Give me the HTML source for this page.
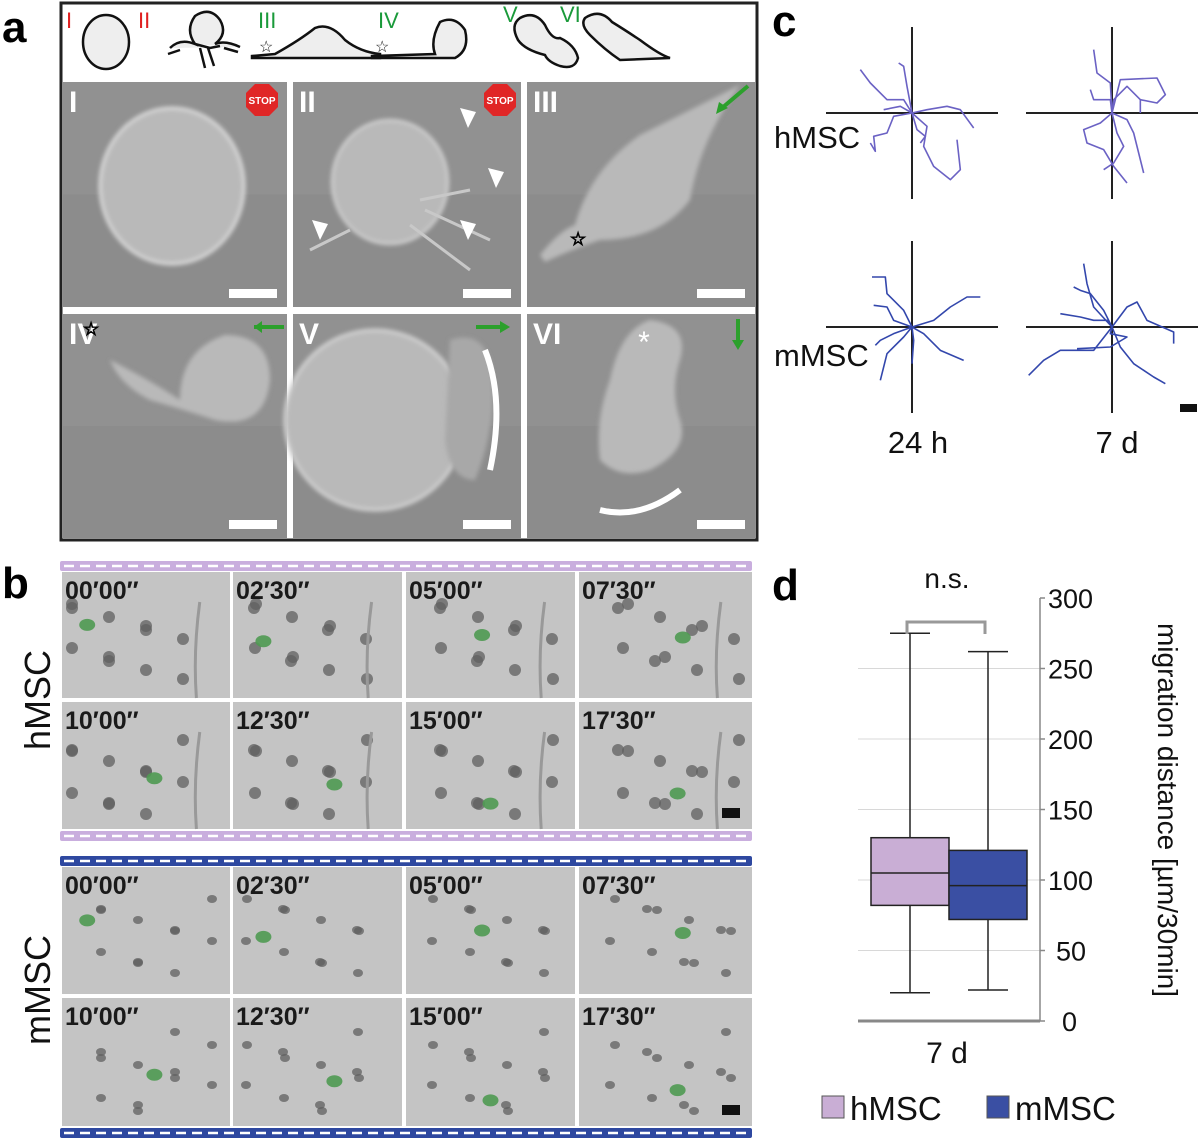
<!DOCTYPE html>
<html><head><meta charset="utf-8"><style>
html,body{margin:0;padding:0;background:#fff;}
svg{display:block;font-family:"Liberation Sans",sans-serif;}
</style></head><body>
<svg id="fig" width="1200" height="1143" viewBox="0 0 1200 1143" xmlns="http://www.w3.org/2000/svg">
<defs>
<filter id="blur2"><feGaussianBlur stdDeviation="2"/></filter>
</defs>
<!-- panel labels -->
<text x="2" y="42" font-size="44" font-weight="bold">a</text>
<text x="2" y="598" font-size="44" font-weight="bold">b</text>
<text x="772" y="36" font-size="44" font-weight="bold">c</text>
<text x="772" y="600" font-size="44" font-weight="bold">d</text>

<!-- ===== Panel a ===== -->
<g>
<rect x="61" y="3" width="696" height="537" fill="#fff" stroke="#222" stroke-width="3"/>
<g stroke="#111" stroke-width="2.5" fill="#eee">
<text x="66" y="28" font-size="22" fill="#e02020" stroke="none">I</text>
<ellipse cx="106" cy="42" rx="23" ry="27"/>
<text x="138" y="28" font-size="22" fill="#e02020" stroke="none">II</text>
<path d="M170,48 Q180,38 195,44 Q185,30 195,16 Q210,6 220,20 Q228,34 215,44 Q225,40 240,47 M195,44 L210,48 L220,46 M200,48 L205,68 M208,48 L214,66 M180,50 L168,54 M224,48 L238,52" fill="#eee"/>
<text x="258" y="28" font-size="22" fill="#1a9a3a" stroke="none">III</text>
<path d="M252,56 L275,54 Q300,40 315,28 Q330,22 345,40 Q360,52 380,54 L380,58 L252,58 Z"/>
<text x="259" y="52" font-size="16" fill="#111" stroke="none">☆</text>
<text x="378" y="28" font-size="22" fill="#1a9a3a" stroke="none">IV</text>
<path d="M372,56 L435,54 Q430,40 440,22 Q455,15 465,30 Q470,50 455,58 L372,58 Z"/>
<text x="375" y="52" font-size="16" fill="#111" stroke="none">☆</text>
<text x="503" y="22" font-size="22" fill="#1a9a3a" stroke="none">V</text>
<path d="M520,18 Q535,10 545,25 Q552,40 560,38 Q575,45 578,58 Q575,70 560,66 Q548,62 545,55 Q525,50 518,40 Q510,25 520,18 Z"/>
<text x="560" y="22" font-size="22" fill="#1a9a3a" stroke="none">VI</text>
<path d="M585,18 Q600,8 612,22 Q625,30 640,40 Q660,55 670,58 L620,60 Q605,50 590,35 Q580,25 585,18 Z"/>
</g>
<g id="sem"></g>
</g>

<!-- ===== Panel b ===== -->
<g id="pb">
<text transform="translate(50,700) rotate(-90)" text-anchor="middle" font-size="36" fill="#111">hMSC</text>
<text transform="translate(50,990) rotate(-90)" text-anchor="middle" font-size="36" fill="#111">mMSC</text>
</g>

<!-- ===== Panel c ===== -->
<g id="pc">
<text x="774" y="148" font-size="31" fill="#111">hMSC</text>
<text x="774" y="366" font-size="31" fill="#111">mMSC</text>
<text x="918" y="453" font-size="31" text-anchor="middle" fill="#111">24 h</text>
<text x="1117" y="453" font-size="31" text-anchor="middle" fill="#111">7 d</text>
<rect x="1180" y="404" width="17" height="8" fill="#111"/>
</g>

<!-- ===== Panel d ===== -->
<g id="pd"></g>
</svg>
<script>
const NS="http://www.w3.org/2000/svg";
function mk(parent,tag,attrs,text){const e=document.createElementNS(NS,tag);for(const k in attrs)e.setAttribute(k,attrs[k]);if(text!==undefined)e.textContent=text;parent.appendChild(e);return e;}

/* ---- Panel a: SEM micrographs ---- */
const sem=document.getElementById('sem');
const semCols=[[63,287],[293,521],[527,755]];
const semRows=[[82,307],[314,538]];
const semLabels=['I','II','III','IV','V','VI'];
for(let r=0;r<2;r++)for(let c=0;c<3;c++){
  const x0=semCols[c][0],x1=semCols[c][1],y0=semRows[r][0],y1=semRows[r][1];
  const g=mk(sem,'g',{});
  
  
  mk(g,'rect',{x:x0,y:y0,width:x1-x0,height:y1-y0,fill:'#8c8c8c'});
  mk(g,'rect',{x:x0,y:y0,width:x1-x0,height:(y1-y0)/2,fill:'#949494',opacity:0.6});
  const lab=mk(g,'text',{x:x0+6,y:y0+30,'font-size':30,'font-weight':'bold',fill:'#fff'},semLabels[r*3+c]);
  
  
  const sb=mk(g,'rect',{x:x1-58,y:y1-18,width:48,height:9,fill:'#fff'});
  
  
}
// cell shapes
const cellFill='#b9b9b9';
mk(sem,'ellipse',{cx:172,cy:186,rx:72,ry:78,fill:cellFill,stroke:'#ddd','stroke-width':3,filter:'url(#blur2)'});
mk(sem,'ellipse',{cx:390,cy:182,rx:58,ry:62,fill:cellFill,stroke:'#ddd','stroke-width':2,filter:'url(#blur2)'});
mk(sem,'path',{d:'M420,200 L470,190 M425,210 L490,240 M410,225 L470,270 M350,230 L310,250',stroke:'#c8c8c8','stroke-width':3,fill:'none'});
mk(sem,'path',{d:'M540,255 Q560,230 575,225 Q590,170 640,135 Q690,110 740,85 Q700,140 690,200 Q660,240 600,240 Q570,250 545,262 Z',fill:cellFill,filter:'url(#blur2)'});
mk(sem,'path',{d:'M110,360 Q150,380 180,400 Q180,350 225,335 Q270,335 270,380 Q265,430 215,420 Q185,410 150,400 Q120,385 110,360 Z',fill:cellFill,filter:'url(#blur2)'});
mk(sem,'circle',{cx:375,cy:420,r:90,fill:cellFill,stroke:'#d5d5d5','stroke-width':3,filter:'url(#blur2)'});
mk(sem,'path',{d:'M450,340 Q480,330 490,360 Q500,420 475,480 Q450,480 445,440 Z',fill:'#a8a8a8',filter:'url(#blur2)'});
mk(sem,'path',{d:'M485,350 Q505,400 490,470',stroke:'#fff','stroke-width':6,fill:'none'});
mk(sem,'path',{d:'M610,380 Q620,330 650,320 Q690,325 680,360 Q670,390 680,420 Q690,450 650,470 Q620,480 600,460 Q595,420 610,380 Z',fill:cellFill,filter:'url(#blur2)'});
mk(sem,'path',{d:'M600,510 Q640,520 680,490',stroke:'#fff','stroke-width':6,fill:'none'});
mk(sem,'text',{x:644,y:352,'font-size':30,fill:'#fff','text-anchor':'middle'},'*');
// stop signs and arrows
[[262,100],[500,100]].forEach(p=>{
  const s=mk(sem,'polygon',{points:[[-7,-16],[7,-16],[16,-7],[16,7],[7,16],[-7,16],[-16,7],[-16,-7]].map(q=>(p[0]+q[0])+','+(p[1]+q[1])).join(' '),fill:'#e02626'});
  
  
  mk(sem,'text',{x:p[0],y:p[1]+4,'font-size':10,'font-weight':'bold',fill:'#fff','text-anchor':'middle'},'STOP');
});
[['M254,327 L284,327','M254,327 L262,321 L262,333 Z'],['M476,327 L505,327','M510,327 L500,321 L500,333 Z'],['M738,319 L738,345','M738,350 L732,340 L744,340 Z'],['M748,86 L722,108','M716,114 L719,102 L728,108 Z']].forEach(a=>{
  mk(sem,'path',{d:a[0],stroke:'#2ca02c','stroke-width':4});
  mk(sem,'path',{d:a[1],fill:'#2ca02c'});
});
[[468,118,0],[496,178,1],[320,230,2],[468,230,3]].forEach(p=>{
  mk(sem,'polygon',{points:`${p[0]-8},${p[1]-10} ${p[0]+8},${p[1]-6} ${p[0]},${p[1]+10}`,fill:'#fff'});
});
mk(sem,'text',{x:570,y:245,'font-size':18,fill:'#fff',stroke:'#000','stroke-width':1},'☆');
mk(sem,'text',{x:83,y:335,'font-size':18,fill:'#fff',stroke:'#000','stroke-width':1},'☆');

/* ---- Panel b: time-lapse ---- */
const pb=document.getElementById('pb');
const bCols=[[62,230],[233,402],[406,575],[579,752]];
const times=['00\u203200\u2033','02\u203230\u2033','05\u203200\u2033','07\u203230\u2033','10\u203200\u2033','12\u203230\u2033','15\u203200\u2033','17\u203230\u2033'];
const groups=[{top:561,rows:[[572,698],[702,829]],bot:831,col:'#c9aede',name:'hmsc'},{top:856,rows:[[867,994],[998,1126]],bot:1128,col:'#2e48a0',name:'mmsc'}];
const greenPos=[[0.15,0.42],[0.18,0.55],[0.45,0.5],[0.6,0.52],[0.55,0.6],[0.6,0.65],[0.5,0.8],[0.57,0.72]];
groups.forEach((gr,gi)=>{
  [gr.top,gr.bot].forEach(yy=>{
    const bar=mk(pb,'rect',{x:60,y:yy,width:692,height:10,rx:2,fill:gr.col});
    
    
    mk(pb,'line',{x1:64,y1:yy+5,x2:748,y2:yy+5,stroke:'#fff','stroke-width':2.5,'stroke-dasharray':'10,6'});
  });
  gr.rows.forEach((rw,ri)=>{
    bCols.forEach((cl,ci)=>{
      const idx=ri*4+ci;
      const w=cl[1]-cl[0],h=rw[1]-rw[0];
      const fr=mk(pb,'rect',{x:cl[0],y:rw[0],width:w,height:h,fill:'#c4c4c4'});
      
      
      for(let k=0;k<11;k++){
        const fx=cl[0]+((k*37+ci*13+gi*29)%(w-20))+10;
        const fy=rw[0]+32+((k*53+ri*17+gi*11)%(h-42));
        mk(pb,'ellipse',{cx:fx,cy:fy,rx:gi?5:6,ry:gi?4:6,fill:'#606060',opacity:0.75});
      }
      if(gi===0) mk(pb,'path',{d:`M${cl[0]+w*0.82},${rw[0]+30} Q${cl[0]+w*0.78},${rw[0]+80} ${cl[0]+w*0.8},${rw[0]+h}`,stroke:'#999','stroke-width':3,fill:'none'});
      const gp=greenPos[idx];
      mk(pb,'ellipse',{cx:cl[0]+w*gp[0],cy:rw[0]+h*gp[1],rx:8,ry:6,fill:'#4f9a52',opacity:0.9});
      const t=mk(pb,'text',{x:cl[0]+3,y:rw[0]+27,'font-size':25,'font-weight':'bold',fill:'#1a1a1a'},times[idx]);
      
      
    });
  });
  const sb=mk(pb,'rect',{x:722,y:gr.rows[1][1]-21,width:18,height:10,fill:'#111'});
  
  
});

/* ---- Panel c: migration tracks ---- */
// track point offsets from origin (units of 1/3 px)
const tracksH24=[[[0,0],[-25,-40],[-75,-40],[-125,-90],[-155,-130]],[[0,0],[-15,-80],[-25,-140],[-40,-150]],[[0,0],[45,-10],[105,-20],[145,-10],[185,45]],[[0,0],[45,40],[35,100],[65,160],[115,200],[145,170],[135,80]],[[0,0],[-55,10],[-75,60],[-115,70],[-110,115],[-125,90]],[[0,0],[15,50],[40,70],[25,90]],[[0,0],[-35,-20],[-85,-10]]];
const tracksH7=[[[0,0],[-5,-90],[-45,-120],[-55,-190]],[[0,0],[-5,-40],[-55,-40],[-65,-70]],[[0,0],[25,-100],[135,-105],[160,-55],[135,-30],[85,-40]],[[0,0],[-35,30],[-85,50],[-75,90],[-25,110],[5,160],[45,210]],[[0,0],[45,20],[65,60],[95,180]],[[0,0],[15,60],[35,100],[5,150],[-25,170]],[[0,0],[5,-40],[45,-80],[85,-40],[85,0]]];
const tracksM24=[[[0,0],[-25,-50],[-75,-100],[-80,-150],[-120,-150]],[[0,0],[-55,-20],[-75,-60],[-115,-65]],[[0,0],[65,-20],[115,-60],[165,-90],[205,-90]],[[0,0],[35,20],[85,70],[155,100]],[[0,0],[-25,30],[-75,80],[-95,160]],[[0,0],[-55,20],[-95,40],[-110,55]],[[0,0],[5,40],[0,110]]];
const tracksM7=[[[0,0],[-55,-60],[-75,-130],[-85,-190]],[[0,0],[-25,-50],[-65,-100],[-95,-110],[-115,-120]],[[0,0],[45,-60],[75,-75],[105,-20],[185,15],[185,50]],[[0,0],[-55,70],[-155,70],[-205,100],[-250,145]],[[0,0],[25,60],[65,110],[125,150],[160,170]],[[0,0],[-15,-20],[-55,-20],[-95,-30],[-155,-40]],[[0,0],[-5,20],[45,30],[-5,60],[-105,65]]];
const cPanels=[{cx:912,cy:113,tr:tracksH24,col:'#6b62c4'},{cx:1112,cy:113,tr:tracksH7,col:'#6b62c4'},{cx:912,cy:327,tr:tracksM24,col:'#3347ac'},{cx:1112,cy:327,tr:tracksM7,col:'#3347ac'}];
const pc=document.getElementById('pc');
cPanels.forEach((p,i)=>{
  const ax=mk(pc,'path',{d:`M${p.cx-86},${p.cy} L${p.cx+86},${p.cy} M${p.cx},${p.cy-86} L${p.cx},${p.cy+86}`,stroke:'#222','stroke-width':2,fill:'none'});
  
  
  p.tr.forEach(t=>{
    const d=t.map((q,j)=>(j?'L':'M')+(p.cx+q[0]/3)+','+(p.cy+q[1]/3)).join(' ');
    const pl=mk(pc,'path',{d:d,stroke:p.col,'stroke-width':1.6,fill:'none','stroke-linejoin':'round'});
    
    
  });
});

/* ---- Panel d: box plot ---- */
const categories=['hMSC','mMSC'];
const whiskerMin=[20,22];
const q1=[82,72];
const median=[105,96];
const q3=[130,121];
const whiskerMax=[275,262];
const yTicks=[0,50,100,150,200,250,300];
const boxColors=['#c9aed5','#3a4fa3'];
const pd=document.getElementById('pd');
const y=v=>1021-v*1.41;
const bx=i=>910+i*78; // box centers
const axisX=1040;
yTicks.forEach(t=>{
  if(t>0&&t<300){const gl=mk(pd,'line',{x1:858,y1:y(t),x2:axisX,y2:y(t),stroke:'#d8d8d8','stroke-width':1});
  
  }
  mk(pd,'line',{x1:axisX,y1:y(t),x2:axisX+5,y2:y(t),stroke:'#888','stroke-width':1.5});
  const tl=mk(pd,'text',{x:t===0?1062:(t<100?1056:1048),y:y(t)+10,'font-size':27,fill:'#111'},String(t));
  
  
});
const yAxis=mk(pd,'line',{x1:axisX,y1:y(300),x2:axisX,y2:y(0),stroke:'#888','stroke-width':1.5});


const xAxis=mk(pd,'line',{x1:858,y1:y(0),x2:axisX,y2:y(0),stroke:'#888','stroke-width':3});


categories.forEach((c,i)=>{
  const cx=bx(i),hw=39;
  const wk=mk(pd,'path',{d:`M${cx},${y(whiskerMax[i])} L${cx},${y(whiskerMin[i])} M${cx-20},${y(whiskerMax[i])} L${cx+20},${y(whiskerMax[i])} M${cx-20},${y(whiskerMin[i])} L${cx+20},${y(whiskerMin[i])}`,stroke:'#222','stroke-width':1.5,fill:'none'});
  
  
  const b=mk(pd,'rect',{x:cx-hw,y:y(q3[i]),width:hw*2,height:y(q1[i])-y(q3[i]),fill:boxColors[i],stroke:'#222','stroke-width':1.5});
  
  
  const m=mk(pd,'line',{x1:cx-hw,y1:y(median[i]),x2:cx+hw,y2:y(median[i]),stroke:'#222','stroke-width':1.5});
  
  
});
const br=mk(pd,'path',{d:`M${bx(0)-3},${y(300)+36} L${bx(0)-3},${y(300)+24} L${bx(1)-3},${y(300)+24} L${bx(1)-3},${y(300)+36}`,stroke:'#999','stroke-width':3,fill:'none'});


const ns=mk(pd,'text',{x:947,y:588,'font-size':28,'text-anchor':'middle',fill:'#111'},'n.s.');


const xl=mk(pd,'text',{x:947,y:1063,'font-size':30,'text-anchor':'middle',fill:'#111'},'7 d');


const yt=mk(pd,'text',{transform:'translate(1158,810) rotate(90)','font-size':28,'text-anchor':'middle',fill:'#111'},'migration distance [\u00b5m/30min]');


[[822,850],[987,1015]].forEach((p,i)=>{
  const sw=mk(pd,'rect',{x:p[0],y:1096,width:22,height:22,fill:boxColors[i],stroke:'#555','stroke-width':1});
  
  
  const lt=mk(pd,'text',{x:p[1],y:1120,'font-size':33,fill:'#111'},categories[i]);
  
  
});
</script>
</body></html>
